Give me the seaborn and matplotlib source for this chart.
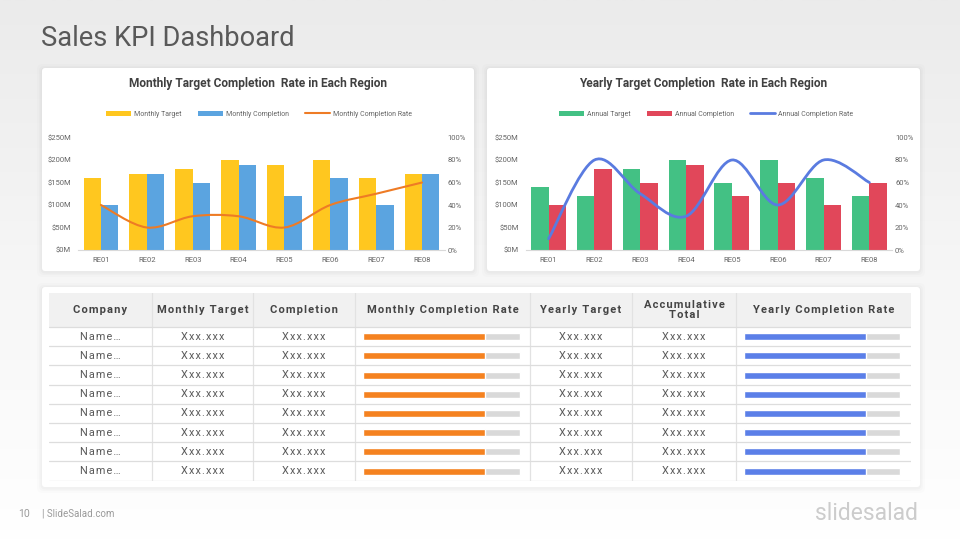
import numpy as np
import pandas as pd
import matplotlib.pyplot as plt
import seaborn as sns
from matplotlib.path import Path
from matplotlib.patches import PathPatch, FancyBboxPatch, Rectangle, Patch
from matplotlib.lines import Line2D

# ---- данные ----
regions = ['RE01', 'RE02', 'RE03', 'RE04', 'RE05', 'RE06', 'RE07', 'RE08']
monthly_target = [160, 170, 180, 200, 190, 200, 160, 170]
monthly_completion = [100, 170, 150, 190, 120, 160, 100, 170]
monthly_rate = [40, 20, 30, 30, 20, 40, 50, 60]
annual_target = [140, 120, 180, 200, 150, 200, 160, 120]
annual_completion = [100, 180, 150, 190, 120, 150, 100, 150]
annual_rate = [10, 80, 50, 30, 80, 40, 80, 60]

money_ticks = [0, 50, 100, 150, 200, 250]
money_labels = ['$0M', '$50M', '$100M', '$150M', '$200M', '$250M']
pct_ticks = [0, 20, 40, 60, 80, 100]
pct_labels = ['0%', '20%', '40%', '60%', '80%', '100%']

table_headers = ['Company', 'Monthly Target', 'Completion', 'Monthly Completion Rate',
                 'Yearly Target', 'Accumulative\nTotal', 'Yearly Completion Rate']
companies = ['Name…'] * 8
cell_value = 'Xxx.xxx'
table_monthly_rate = [78, 78, 78, 78, 78, 78, 78, 78]
table_yearly_rate = [78, 78, 78, 78, 78, 78, 78, 78]

W, H = 960, 540
TXT = '#595959'

sns.set_theme(style='white')
plt.rcParams['font.family'] = ['Roboto', 'DejaVu Sans']


def px(x0, y0, x1, y1):
    return [x0 / W, 1 - y1 / H, (x1 - x0) / W, (y1 - y0) / H]


def spaced(s, sep='\u200a'):
    # разрядка букв, как в таблице оригинала
    return '\n'.join(sep.join(line) for line in s.split('\n'))


def smooth_path(xs, ys):
    # Catmull-Rom -> кривые Безье (сглаженная линия как в Excel)
    pts = np.column_stack([xs, ys]).astype(float)
    p = np.vstack([pts[0], pts, pts[-1]])
    verts, codes = [pts[0]], [Path.MOVETO]
    for i in range(1, len(p) - 2):
        p0, p1, p2, p3 = p[i - 1], p[i], p[i + 1], p[i + 2]
        verts += [p1 + (p2 - p0) / 6, p2 - (p3 - p1) / 6, p2]
        codes += [Path.CURVE4] * 3
    return Path(verts, codes)


fig = plt.figure(figsize=(9.6, 5.4), dpi=100)

# фон слайда
bg = fig.add_axes([0, 0, 1, 1], zorder=0)
bg.set_xlim(0, W)
bg.set_ylim(H, 0)
bg.axis('off')
grad = np.linspace(0, 1, 256).reshape(-1, 1)
bg.imshow(grad, cmap=sns.blend_palette(['#ebebeb', '#f6f6f6', '#ffffff'], as_cmap=True),
          extent=[0, W, H, 0], aspect='auto', zorder=0)

panels = [(42, 68, 474, 271), (487, 68, 920, 271), (42, 287, 920, 487)]
for x0, y0, x1, y1 in panels:
    for d, a in [(5, 0.012), (3, 0.015), (1.5, 0.02)]:
        bg.add_patch(FancyBboxPatch((x0 - d, y0 - d + 1), x1 - x0 + 2 * d, y1 - y0 + 2 * d,
                                    boxstyle='round,pad=0,rounding_size=5',
                                    fc='black', ec='none', alpha=a, zorder=1))
    bg.add_patch(FancyBboxPatch((x0, y0), x1 - x0, y1 - y0,
                                boxstyle='round,pad=0,rounding_size=3',
                                fc='white', ec='none', zorder=2))

bg.text(41, 38, 'Sales KPI Dashboard', fontsize=19.6, color=TXT, va='center', ha='left', zorder=3)
bg.text(18, 514, '10', fontsize=7.5, color='#9a9a9a', va='center', zorder=3)
bg.text(42, 514, '| SlideSalad.com', fontsize=7, color='#9a9a9a', va='center', zorder=3)
bg.text(918, 513, 'slidesalad', fontsize=16.5, color='#cccccc', va='center', ha='right', zorder=3)


def combo_chart(box, title, target, done, rate, bar_colors, line_color, line_w, names, title_x, legend_x):
    ax = fig.add_axes(px(*box), zorder=2)
    df = pd.DataFrame({
        'region': regions * 2,
        'value': target + done,
        'series': [names[0]] * len(regions) + [names[1]] * len(regions),
    })
    sns.barplot(data=df, x='region', y='value', hue='series', palette=bar_colors,
                width=0.76, saturation=1, legend=False, linewidth=0, edgecolor='none',
                ax=ax, zorder=2)
    ax.set_facecolor('none')
    ax.set_xlim(-0.5, len(regions) - 0.5)
    ax.set_ylim(0, 250)
    ax.set_yticks(money_ticks, money_labels)
    ax.set_xlabel('')
    ax.set_ylabel('')
    ax.tick_params(axis='y', length=0, pad=5, labelsize=5.5, labelcolor='#666666')
    ax.tick_params(axis='x', length=0, pad=5, labelsize=5.5, labelcolor='#666666')
    for s in ['top', 'left', 'right']:
        ax.spines[s].set_visible(False)
    ax.spines['bottom'].set_color('#d9d9d9')
    ax.spines['bottom'].set_linewidth(0.8)

    ax2 = ax.twinx()
    ax2.set_ylim(0, 100)
    ax2.set_yticks(pct_ticks, pct_labels)
    ax2.tick_params(axis='y', length=0, pad=2, labelsize=5.5, labelcolor='#666666')
    for s in ax2.spines.values():
        s.set_visible(False)
    ax2.add_patch(PathPatch(smooth_path(range(len(regions)), rate), fc='none',
                            ec=line_color, lw=line_w, capstyle='round', zorder=3))

    fig.text(title_x / W, 1 - 83 / H, title, fontsize=8.6, fontweight='bold',
             color='#404040', ha='center', va='center')
    handles = [Patch(fc=bar_colors[0], ec='none'), Patch(fc=bar_colors[1], ec='none'),
               Line2D([], [], color=line_color, lw=line_w)]
    fig.legend(handles, names, loc='center', bbox_to_anchor=(legend_x / W, 1 - 114 / H),
               ncol=3, frameon=False, fontsize=5, labelcolor='#666666',
               handlelength=3.6, handleheight=0.7, handletextpad=0.4, columnspacing=2.4)
    return ax


combo_chart((78, 137.5, 445, 250), 'Monthly Target Completion  Rate in Each Region',
            monthly_target, monthly_completion, monthly_rate,
            ['#FFC71F', '#5BA4E0'], '#EE7B25', 1.5,
            ['Monthly Target', 'Monthly Completion', 'Monthly Completion Rate'], 258, 259)
combo_chart((525.7, 137.5, 892.3, 250), 'Yearly Target Completion  Rate in Each Region',
            annual_target, annual_completion, annual_rate,
            ['#43C184', '#E1475A'], '#5A7BE0', 2.0,
            ['Annual Target', 'Annual Completion', 'Annual Completion Rate'], 703, 706)

# ---- таблица ----
tab = fig.add_axes(px(49, 293, 911, 481), zorder=2)
tab.set_xlim(49, 911)
tab.set_ylim(481, 293)
tab.axis('off')
cols = [49, 152, 253, 355, 530, 632, 736, 911]
head_top, head_bot, row_h = 293, 327, 19.2
n = len(companies)
row_c = [head_bot + row_h * (i + 0.5) for i in range(n)]

tab.add_patch(Rectangle((cols[0], head_top), cols[-1] - cols[0], head_bot - head_top,
                        fc='#f1f1f1', ec='none', zorder=1))
for xc in cols[1:-1]:
    tab.plot([xc, xc], [head_top, head_bot + row_h * n], color='#e2e2e2', lw=0.9, zorder=2)
for i in range(n + 1):
    yy = head_bot + row_h * i
    tab.plot([cols[0], cols[-1]], [yy, yy], color='#dddddd', lw=0.9, zorder=2)

for j, h in enumerate(table_headers):
    tab.text((cols[j] + cols[j + 1]) / 2, (head_top + head_bot) / 2, spaced(h), ha='center',
             va='center', fontsize=8, fontweight='bold', color='#444444', linespacing=0.95,
             zorder=3)

for i in range(n):
    y = row_c[i]
    tab.text((cols[0] + cols[1]) / 2, y, spaced(companies[i]), ha='center',
             va='center', fontsize=7.8, color=TXT, zorder=3)
    for j in [1, 2, 4, 5]:
        tab.text((cols[j] + cols[j + 1]) / 2, y, spaced(cell_value), ha='center',
                 va='center', fontsize=7.8, color=TXT, zorder=3)

m_left, m_len = 363, 157
y_left, y_len = 744, 156
bar_h = 7
tab.barh(row_c, [m_len] * n, left=m_left, height=bar_h, color='#d9d9d9', zorder=3)
tab.barh(row_c, [r / 100 * m_len for r in table_monthly_rate], left=m_left, height=bar_h,
         color='#F58220', zorder=4)
tab.barh(row_c, [y_len] * n, left=y_left, height=bar_h, color='#d9d9d9', zorder=3)
tab.barh(row_c, [r / 100 * y_len for r in table_yearly_rate], left=y_left, height=bar_h,
         color='#5B7FE8', zorder=4)

fig.savefig('out.png', dpi=100)
